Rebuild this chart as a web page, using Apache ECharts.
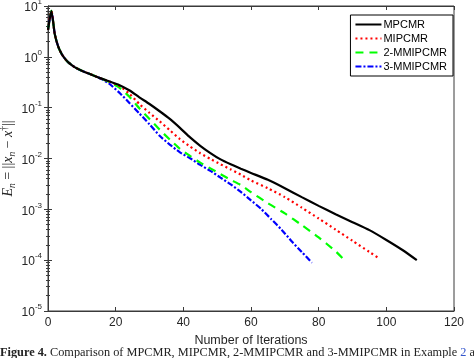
<!DOCTYPE html>
<html><head><meta charset="utf-8">
<script src="https://cdn.jsdelivr.net/npm/echarts@6/dist/echarts.min.js"></script>
<style>html,body{margin:0;padding:0;background:#fff}#c{width:474px;height:358px}</style>
</head><body><div id="c"></div>
<script>
// Shared early part of all four curves
const headIters = [0, 1, 2, 3, 4, 5, 6, 8, 10, 12, 15];
const headVals  = [3.4, 8.0, 2.8, 1.6, 1.15, 0.92, 0.78, 0.62, 0.53, 0.47, 0.39];

const seriesNames = ['MPCMR', 'MIPCMR', '2-MMIPCMR', '3-MMIPCMR'];

const mpcmrIters = [18, 21, 24, 27, 30, 33, 36, 39, 42, 45, 48, 51, 54, 57, 60, 65, 70, 75, 80, 85, 90, 95, 100, 105, 109];
const mpcmrVals  = [0.33, 0.28, 0.22, 0.16, 0.118, 0.085, 0.060, 0.040, 0.026, 0.0178, 0.0128, 0.0096, 0.0077, 0.0063, 0.0052, 0.0038, 0.0026, 0.00174, 0.00117, 0.00080, 0.00056, 0.00039, 0.00025, 0.000155, 0.0001];

const mipcmrIters = [18, 21, 24, 27, 30, 33, 36, 39, 42, 45, 48, 51, 54, 57, 60, 65, 70, 75, 80, 85, 90, 95, 98];
const mipcmrVals  = [0.33, 0.27, 0.19, 0.118, 0.079, 0.054, 0.036, 0.024, 0.0172, 0.0127, 0.0098, 0.0077, 0.0061, 0.0048, 0.0037, 0.0026, 0.00174, 0.00108, 0.00066, 0.0004, 0.00024, 0.000145, 0.000107];

const mm2Iters = [18, 21, 24, 27, 30, 33, 36, 39, 42, 45, 48, 51, 54, 57, 60, 65, 70, 75, 80, 85, 87];
const mm2Vals  = [0.32, 0.25, 0.166, 0.097, 0.060, 0.037, 0.0236, 0.0155, 0.0112, 0.0083, 0.0064, 0.0049, 0.0038, 0.003, 0.00218, 0.00132, 0.00083, 0.00049, 0.00028, 0.00015, 0.00011];

const mm3Iters = [16, 18, 21, 24, 27, 30, 33, 36, 39, 42, 45, 48, 51, 54, 57, 60, 63, 66, 69, 72, 75, 78];
const mm3Vals  = [0.36, 0.30, 0.2, 0.125, 0.077, 0.047, 0.028, 0.0188, 0.0132, 0.0101, 0.0075, 0.0057, 0.0042, 0.0031, 0.0022, 0.0015, 0.00102, 0.00064, 0.0004, 0.000236, 0.000145, 0.000089];

const xTicks = [0, 20, 40, 60, 80, 100, 120];

function build(iters, vals) {
  const out = headIters.map((n, i) => [n, headVals[i]]);
  iters.forEach((n, i) => out.push([n, vals[i]]));
  return out;
}

const colors = ['#000000', '#ff0000', '#00ff00', '#0000ff'];
const dashes = ['solid', [2, 3], [8, 6], [6, 2, 2, 2]];
const widths = [2.2, 2.2, 2.2, 2.2];
const datas = [
  build(mpcmrIters, mpcmrVals),
  build(mipcmrIters, mipcmrVals),
  build(mm2Iters, mm2Vals),
  build(mm3Iters, mm3Vals)
];

const axisCol = '#3a3a3a';
const labelFont = 'Liberation Sans, Arial, sans-serif';

const chart = echarts.init(document.getElementById('c'), null, {renderer: 'canvas'});
const yLabelFmt = v => {
  const e = Math.round(Math.log10(v));
  return '{b|10}{s|' + e + '}';
};
const yRich = {
  b: {fontSize: 12, fontFamily: labelFont, color: '#262626', lineHeight: 16, verticalAlign: 'bottom', padding: [6, 0, 0, 0]},
  s: {fontSize: 8, fontFamily: labelFont, color: '#262626', lineHeight: 16, verticalAlign: 'top', padding: [0, 0, 6, 0]}
};

chart.setOption({
  animation: false,
  backgroundColor: '#fff',
  grid: {left: 48, right: 20, top: 6, bottom: 47, show: true, borderColor: axisCol, borderWidth: 1,
         containLabel: false, outerBoundsMode: 'none'},
  legend: {
    data: seriesNames,
    right: 21, top: 15,
    orient: 'vertical',
    backgroundColor: '#fff',
    borderColor: '#000', borderWidth: 1,
    padding: [4, 6, 4, 4],
    itemWidth: 26, itemHeight: 10, itemGap: 3,
    itemStyle: {opacity: 0},
    textStyle: {fontFamily: labelFont, fontSize: 11, color: '#000', padding: [0, 0, 0, -3]}
  },
  xAxis: [{
    type: 'value', min: 0, max: 120, interval: 20,
    name: 'Number of Iterations', nameLocation: 'middle', nameGap: 21,
    nameTextStyle: {fontFamily: labelFont, fontSize: 12.5, color: '#262626'},
    axisLine: {show: true, lineStyle: {color: axisCol}},
    axisTick: {show: true, inside: true, length: 4, lineStyle: {color: axisCol}},
    axisLabel: {fontFamily: labelFont, fontSize: 12, color: '#262626', margin: 6,
      formatter: v => xTicks.includes(v) ? String(v) : ''},
    splitLine: {show: false}
  }, {
    type: 'value', min: 0, max: 120, interval: 20, position: 'top',
    axisLine: {show: true, lineStyle: {color: axisCol}},
    axisTick: {show: true, inside: true, length: 4, lineStyle: {color: axisCol}},
    axisLabel: {show: false}, splitLine: {show: false}
  }],
  yAxis: [{
    type: 'log', logBase: 10, min: 1e-5, max: 10,
    name: '{i|E}{sub|n}{t| = ||}{i|x}{sub|n}{t| − }{i|x}{sup|†}{t|||}',
    nameLocation: 'middle', nameGap: 31, nameRotate: 90, nameMoveOverlap: false,
    nameTextStyle: {
      color: '#262626',
      rich: {
        i: {fontFamily: 'Liberation Serif, serif', fontStyle: 'italic', fontSize: 14, color: '#262626', lineHeight: 18, verticalAlign: 'middle'},
        t: {fontFamily: 'Liberation Serif, serif', fontSize: 14, color: '#262626', lineHeight: 18, verticalAlign: 'middle'},
        sub: {fontFamily: 'Liberation Serif, serif', fontStyle: 'italic', fontSize: 9.5, color: '#262626', lineHeight: 18, verticalAlign: 'bottom', padding: [6, 0, 0, 0]},
        sup: {fontFamily: 'Liberation Serif, serif', fontSize: 9.5, color: '#262626', lineHeight: 18, verticalAlign: 'top', padding: [0, 0, 8, 0]}
      }
    },
    axisLine: {show: true, lineStyle: {color: axisCol}},
    axisTick: {show: true, inside: true, length: 4, lineStyle: {color: axisCol}},
    minorTick: {show: true, splitNumber: 9, length: 2, lineStyle: {color: axisCol}},
    axisLabel: {formatter: yLabelFmt, rich: yRich, margin: 6},
    splitLine: {show: false}
  }, {
    type: 'log', logBase: 10, min: 1e-5, max: 10, position: 'right',
    axisLine: {show: true, lineStyle: {color: axisCol}},
    axisTick: {show: true, inside: true, length: 4, lineStyle: {color: axisCol}},
    minorTick: {show: true, splitNumber: 9, length: 2, lineStyle: {color: axisCol}},
    axisLabel: {show: false}, splitLine: {show: false}
  }],
  series: seriesNames.map((name, i) => ({
    name, type: 'line', xAxisIndex: 0, yAxisIndex: 0,
    data: datas[i], symbol: 'none', showSymbol: false, smooth: 0.2,
    z: 10 - i,
    lineStyle: {color: colors[i], width: widths[i], type: dashes[i]},
    itemStyle: {color: colors[i]}
  })),
  graphic: [{
    type: 'text', left: 0, top: 347,
    style: {
      text: '{bd|Figure 4.} Comparison of MPCMR, MIPCMR, 2-MMIPCMR and 3-MMIPCMR in Example {bl|2} a',
      font: '12.3px "Liberation Serif", serif', fill: '#222',
      rich: {
        bd: {font: 'bold 12.3px "Liberation Serif", serif', fill: '#222'},
        bl: {font: '12.3px "Liberation Serif", serif', fill: '#3355cc'}
      }
    }
  }]
});
</script></body></html>
